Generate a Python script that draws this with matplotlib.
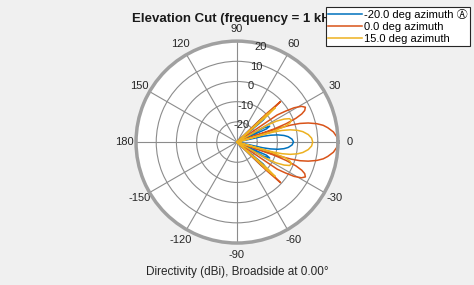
import numpy as np
import matplotlib
matplotlib.use('Agg')
import matplotlib.pyplot as plt

plt.rcParams['font.family'] = ['Liberation Sans', 'Noto Sans CJK JP', 'DejaVu Sans']

# elevation angles (deg, upper half; pattern is symmetric) and directivity (dBi)
el_blue = [0, 3, 6, 8, 10, 11.5, 12.5, 13,
           22, 24, 26, 28, 28.5,
           39, 40, 42, 44, 45, 90]
dir_blue = [-2, -2.7, -4.5, -6.5, -9.5, -13, -17, -30,
            -30, -14, -12, -15, -30,
            -30, -13, -10, -13, -30, -30]

el_orange = [0, 3, 6, 9, 11, 13, 15, 16.5, 17.5, 18, 18.5, 19,
             19.5, 20.5, 22, 23.5, 25, 27, 29, 31, 32.5, 34, 34.5,
             41, 42, 43, 44, 44.5, 90]
dir_orange = [20, 19.5, 18, 15.5, 13.5, 10.5, 6.5, 2.5, -2, -6, -10.5, -30,
              -10.5, -4, 1.5, 5, 7, 8, 6.5, 3, -1.5, -6, -30,
              -30, -10, -0.5, -10, -30, -30]

el_yellow = [0, 3, 6, 9, 11, 13, 14.5, 15.5, 16,
             16.5, 18, 20, 22, 24, 26, 28, 29, 29.5,
             40, 41, 42, 43, 43.5, 90]
dir_yellow = [7.5, 7, 5.5, 3, 0.5, -3, -7, -12, -30,
              -12, -5, -2, -1, -1.5, -4, -8, -12, -30,
              -30, -10, -4.5, -10, -30, -30]

labels = ['-20.0 deg azimuth \u24b6', '0.0 deg azimuth', '15.0 deg azimuth']
colors = ['#0072BD', '#D95319', '#EDB120']

theta_ticks = [0, 30, 60, 90, 120, 150, 180, 210, 240, 270, 300, 330]
theta_labels = ['0', '30', '60', '90', '120', '150', '180',
                '-150', '-120', '-90', '-60', '-30']
r_ticks = [-20, -10, 0, 10, 20]


def mirror(el, d):
    el = np.array(el, dtype=float)
    d = np.array(d, dtype=float)
    full_el = np.concatenate([-el[::-1], el[1:]])
    full_d = np.concatenate([d[::-1], d[1:]])
    return np.deg2rad(full_el), full_d


fig = plt.figure(figsize=(4.74, 2.85), dpi=100, facecolor='#f0f0f0')
ax = fig.add_axes([0.287, 0.147, 0.426, 0.709], projection='polar')
ax.set_facecolor('white')

for el, d, c, lab in zip([el_blue, el_orange, el_yellow],
                         [dir_blue, dir_orange, dir_yellow], colors, labels):
    th, r = mirror(el, d)
    ax.plot(th, r, color=c, lw=1.1, label=lab)

ax.set_ylim(-30, 20)
ax.set_yticks(r_ticks)
ax.set_yticklabels([])
# radial labels sit right on their rings, like the reference
for v in r_ticks:
    ax.text(np.deg2rad(76), v - 1.5, str(v), ha='center', va='center',
            fontsize=8, color='#262626')
ax.set_thetagrids(theta_ticks, theta_labels, fontsize=8, color='#262626')
ax.tick_params(axis='x', pad=-2)
ax.grid(True, color='#8c8c8c', lw=0.8)
ax.spines['polar'].set_color('#a0a0a0')
ax.spines['polar'].set_linewidth(2.5)

fig.text(0.5, 0.935, 'Elevation Cut (frequency = 1 kHz)', ha='center', va='center',
         fontsize=9.5, fontweight='bold', color='#1a1a1a')
fig.text(0.5, 0.045, 'Directivity (dBi), Broadside at 0.00\u00b0', ha='center',
         va='center', fontsize=8.5, color='#262626')

leg = fig.legend(loc='upper left', bbox_to_anchor=(0.688, 0.975), borderaxespad=0,
                 fontsize=8, handlelength=3, handletextpad=0.2, labelspacing=0.15,
                 borderpad=0.2, fancybox=False, framealpha=1, edgecolor='#262626')
leg.get_frame().set_linewidth(0.8)

fig.savefig('out.png', dpi=100, facecolor=fig.get_facecolor())
